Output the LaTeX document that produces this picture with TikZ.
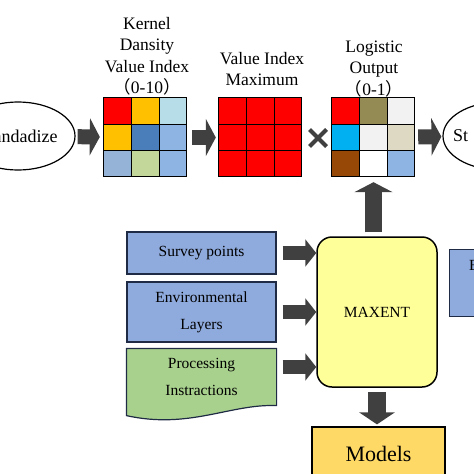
\documentclass[tikz,border=0pt]{standalone}
\usepackage{fontspec}
\setmainfont{Liberation Serif}
\newfontfamily\cjk{Noto Sans CJK SC}
\usetikzlibrary{arrows.meta,shapes.geometric,shapes.misc,calc,backgrounds}
\definecolor{boxblue}{HTML}{8FAADC}
\definecolor{boxline}{HTML}{1F2A44}
\definecolor{procgreen}{HTML}{A9D18E}
\definecolor{maxyellow}{HTML}{FFFF99}
\definecolor{modelgold}{HTML}{FFD966}
\definecolor{arrowgray}{HTML}{404040}
\definecolor{cred}{HTML}{FF0000}
\definecolor{corange}{HTML}{FFC000}
\definecolor{cpale}{HTML}{B7DEE8}
\definecolor{cblue}{HTML}{4A7EBB}
\definecolor{csky}{HTML}{8DB4E2}
\definecolor{csteel}{HTML}{95B3D7}
\definecolor{cgreen}{HTML}{C4D79B}
\definecolor{colive}{HTML}{948A54}
\definecolor{cgray}{HTML}{F2F2F2}
\definecolor{ccyan}{HTML}{00B0F0}
\definecolor{ctan}{HTML}{DDD9C3}
\definecolor{cbrown}{HTML}{974806}
\newcommand\fillcells[2]{%
  \foreach \cellcol [count=\k from 0] in {#2} {%
    \pgfmathtruncatemacro\gr{\k/3}%
    \pgfmathtruncatemacro\gc{mod(\k,3)}%
    \filldraw[fill=\cellcol,draw=black,line width=1.2pt] ($(#1.north west)+(\gc*83/3,\gr*79/3)$) rectangle ++(83/3,79/3);
  }}
\begin{document}
\begin{tikzpicture}[x=1pt,y=-1pt]
    \useasboundingbox (0,0) rectangle (474,474);
    \clip (0,0) rectangle (474,474);
    \tikzstyle{gridbox}=[minimum width=83pt, minimum height=79pt, inner sep=0pt]
    \tikzstyle{toplabel}=[align=center, inner sep=0pt, font=\fontsize{17.5}{21.5}\selectfont]
    \tikzstyle{stdnode}=[ellipse, draw, line width=1.2pt, minimum width=114pt, minimum height=68pt, inner sep=0pt, font=\fontsize{18}{21}\selectfont]
    \tikzstyle{inbox}=[rectangle, draw=boxline, fill=boxblue, line width=1.2pt, minimum width=149pt, align=center, font=\fontsize{15.5}{27}\selectfont]
    \tikzstyle{maxbox}=[rectangle, rounded corners=15pt, draw, fill=maxyellow, line width=1.5pt, minimum width=120pt, minimum height=150pt, font=\fontsize{15.5}{18}\selectfont]
    \tikzstyle{modelbox}=[rectangle, draw, fill=modelgold, line width=1.2pt, minimum width=133pt, minimum height=53pt, font=\fontsize{22}{26}\selectfont]
    \tikzstyle{crossmark}=[cross out, draw=arrowgray, line width=4pt, minimum size=13pt, inner sep=0pt]

    \node[stdnode] (stdleft) at (18,136) {Standadize};
    \node[gridbox] (kernel) at (145.5,137.5) {};
    \node[gridbox] (vimax) at (260.5,137.5) {};
    \node[crossmark] (mult) at (318,138) {};
    \node[gridbox] (logit) at (373.5,137.5) {};
    \node[stdnode] (stdright) at (500,136) {};
    \node[anchor=west, inner sep=0pt, font=\fontsize{18}{21}\selectfont] (stdrightlab) at (453,136) {St};
    \fillcells{kernel}{cred,corange,cpale,corange,cblue,csky,csteel,cgreen,csky}
    \fillcells{vimax}{cred,cred,cred,cred,cred,cred,cred,cred,cred}
    \fillcells{logit}{cred,colive,cgray,ccyan,cgray,ctan,cbrown,white,csky}

    \node[toplabel] (kernellab) at (147,56.5) {Kernel\\Dansity\\Value Index\\{\cjk （}0-10{\cjk ）}};
    \node[toplabel] (vimaxlab) at (262,69) {Value Index\\Maximum};
    \node[toplabel] (logitlab) at (374,69) {Logistic\\Output\\{\cjk （}0-1{\cjk ）}};

    \node[inbox, minimum height=42pt] (survey) at (201.5,253) {Survey points};
    \node[inbox, minimum height=60pt] (envlayer) at (201.5,312) {Environmental\\Layers};
    \node[inbox, draw=none, fill=none, minimum height=56pt] (procinst) at (201.5,377) {Processing\\Instractions};
    \begin{scope}[on background layer]
    \filldraw[fill=procgreen, draw=boxline, line width=1.2pt] (procinst.north west) -- (procinst.north east) -- (procinst.south east)
        .. controls +(-46,-2) and +(63,14) .. ($(procinst.south west)+(0,10)$) -- cycle;
    \end{scope}
    \node[maxbox] (maxent) at (377,312) {MAXENT};
    \node[modelbox] (models) at (378.5,453.5) {Models};
    \node[inbox, anchor=north west, minimum width=100pt, minimum height=67pt] (evalbox) at (449,249) {};
    \node[anchor=west, inner sep=0pt, font=\fontsize{15.5}{18}\selectfont] (evallab) at (469,265) {E};
    \coordinate (procout) at ([yshift=10pt]procinst.east);

    \tikzstyle{toparrow}=[draw=arrowgray, line width=15pt, -{Triangle[length=10pt,width=37pt]}]
    \tikzstyle{sidearrow}=[draw=arrowgray, line width=14pt, -{Triangle[length=11pt,width=27pt]}]
    \tikzstyle{uparrow}=[draw=arrowgray, line width=17pt, -{Triangle[length=10pt,width=38pt]}]
    \tikzstyle{downarrow}=[draw=arrowgray, line width=18pt, -{Triangle[length=12pt,width=35pt]}]
    \draw[toparrow, shorten <=2pt, shorten >=4pt] (stdleft) -- (kernel);
    \draw[toparrow, shorten <=5pt, shorten >=3pt] (kernel) -- (vimax);
    \draw[toparrow, shorten <=3pt, shorten >=1pt] (logit) -- (stdright);
    \draw[sidearrow, shorten <=6pt] (survey.east) -- (survey.east -| maxent.west);
    \draw[sidearrow, shorten <=6pt] (envlayer.east) -- (envlayer.east -| maxent.west);
    \draw[sidearrow, shorten <=6pt] (procout) -- (procout -| maxent.west);
    \draw[uparrow, shorten <=4pt, shorten >=5pt] (logit.south |- maxent.north) -- (logit.south);
    \draw[downarrow, shorten <=4pt, shorten >=2pt] (maxent.south) -- (maxent.south |- models.north);
\end{tikzpicture}
\end{document}
